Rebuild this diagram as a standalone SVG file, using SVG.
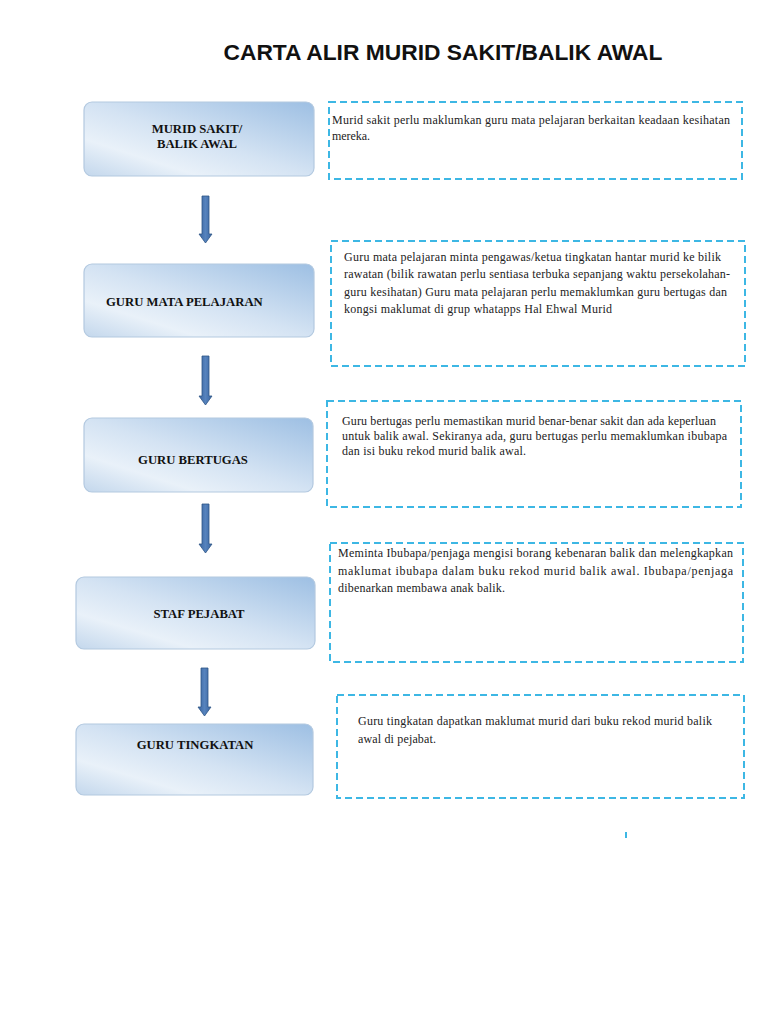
<svg xmlns="http://www.w3.org/2000/svg" width="768" height="1024" viewBox="0 0 768 1024">
<defs>
<linearGradient id="g" x1="1" y1="0" x2="0" y2="1">
<stop offset="0" stop-color="#9dbfe3"/>
<stop offset="0.5" stop-color="#d4e3f3"/>
<stop offset="0.75" stop-color="#e9f1f9"/>
<stop offset="1" stop-color="#c3d7ec"/>
</linearGradient>
<linearGradient id="ag" x1="0" y1="0" x2="1" y2="0">
<stop offset="0" stop-color="#3a64a0"/>
<stop offset="0.5" stop-color="#5683bd"/>
<stop offset="1" stop-color="#3a64a0"/>
</linearGradient>
</defs>
<style>
.node{fill:url(#g);stroke:#b3c9e0;stroke-width:1.2}
.nt{font-family:"Liberation Serif",serif;font-weight:bold;font-size:12.7px;fill:#111}
.note{fill:#fff;stroke:#3db7e4;stroke-width:2;stroke-dasharray:7 4}
.tx{font-family:"Liberation Serif",serif;font-size:12px;fill:#222}
.arr{fill:url(#ag);stroke:#2f5587;stroke-width:0.8}
</style>
<rect width="768" height="1024" fill="#fff"/>
<text x="443" y="60" text-anchor="middle" font-family="Liberation Sans, Arial, sans-serif" font-size="22.8" font-weight="bold" fill="#111">CARTA ALIR MURID SAKIT/BALIK AWAL</text>

<g id="n1"><rect class="node" x="84" y="102" width="230" height="74" rx="8"/>
<text class="nt" x="197" y="133" text-anchor="middle">MURID SAKIT/</text>
<text class="nt" x="197" y="148" text-anchor="middle">BALIK AWAL</text></g>
<g id="n2"><rect class="node" x="84" y="264" width="230" height="73" rx="8"/>
<text class="nt" x="106" y="306">GURU MATA PELAJARAN</text></g>
<g id="n3"><rect class="node" x="84" y="418" width="229" height="74" rx="8"/>
<text class="nt" x="193" y="464" text-anchor="middle">GURU BERTUGAS</text></g>
<g id="n4"><rect class="node" x="76" y="577" width="239" height="72" rx="8"/>
<text class="nt" x="199" y="618" text-anchor="middle">STAF PEJABAT</text></g>
<g id="n5"><rect class="node" x="76" y="724" width="237" height="71" rx="8"/>
<text class="nt" x="195" y="749" text-anchor="middle">GURU TINGKATAN</text></g>

<g id="connectors">
<path class="arr" d="M202 196 H209 V234 H212 L205.5 243 L199 234 H202 Z"/>
<path class="arr" d="M202 356 H209 V396 H212 L205.5 405 L199 396 H202 Z"/>
<path class="arr" d="M202 504 H209 V544 H212 L205.5 553 L199 544 H202 Z"/>
<path class="arr" d="M201 668 H208 V707 H211 L204.5 716 L198 707 H201 Z"/>
</g>

<g id="d1"><rect class="note" x="329" y="102" width="413" height="77"/>
<text class="tx" x="332" y="124" textLength="398" lengthAdjust="spacing">Murid sakit perlu maklumkan guru mata pelajaran berkaitan keadaan kesihatan</text>
<text class="tx" x="332" y="140" textLength="38" lengthAdjust="spacing">mereka.</text></g>
<g id="d2"><rect class="note" x="331" y="241" width="414" height="125"/>
<text class="tx" x="344" y="261" textLength="377" lengthAdjust="spacing">Guru mata pelajaran minta pengawas/ketua tingkatan hantar murid ke bilik</text>
<text class="tx" x="344" y="278" textLength="386" lengthAdjust="spacing">rawatan (bilik rawatan perlu sentiasa terbuka sepanjang waktu persekolahan-</text>
<text class="tx" x="344" y="296" textLength="383" lengthAdjust="spacing">guru kesihatan) Guru mata pelajaran perlu memaklumkan guru bertugas dan</text>
<text class="tx" x="344" y="313" textLength="268" lengthAdjust="spacing">kongsi maklumat di grup whatapps Hal Ehwal Murid</text></g>
<g id="d3"><rect class="note" x="327" y="401" width="414" height="106"/>
<text class="tx" x="342" y="425" textLength="374" lengthAdjust="spacing">Guru bertugas perlu memastikan murid benar-benar sakit dan ada keperluan</text>
<text class="tx" x="342" y="440" textLength="385" lengthAdjust="spacing">untuk balik awal. Sekiranya ada, guru bertugas perlu memaklumkan ibubapa</text>
<text class="tx" x="342" y="455" textLength="184" lengthAdjust="spacing">dan isi buku rekod murid balik awal.</text></g>
<g id="d4"><rect class="note" x="330" y="543" width="413" height="119"/>
<text class="tx" x="338" y="557" textLength="395" lengthAdjust="spacing">Meminta Ibubapa/penjaga mengisi borang kebenaran balik dan melengkapkan</text>
<text class="tx" x="338" y="575" textLength="395" lengthAdjust="spacing">maklumat ibubapa dalam buku rekod murid balik awal. Ibubapa/penjaga</text>
<text class="tx" x="338" y="592" textLength="167" lengthAdjust="spacing">dibenarkan membawa anak balik.</text></g>
<g id="d5"><rect class="note" x="337" y="695" width="407" height="103"/>
<text class="tx" x="358" y="725" textLength="354" lengthAdjust="spacing">Guru tingkatan dapatkan maklumat murid dari buku rekod murid balik</text>
<text class="tx" x="358" y="743" textLength="78" lengthAdjust="spacing">awal di pejabat.</text></g>
<rect x="625" y="832" width="2" height="6" fill="#3db7e4"/>
</svg>
